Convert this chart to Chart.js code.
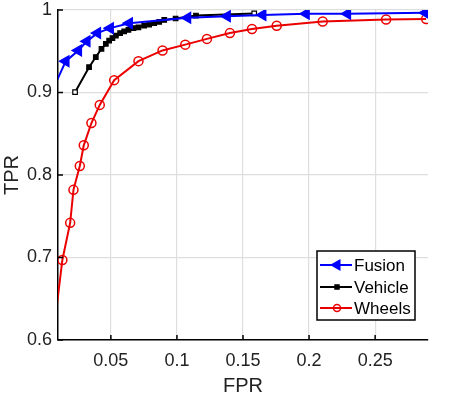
<!DOCTYPE html>
<html>
<head>
<meta charset="utf-8">
<script src="https://cdn.jsdelivr.net/npm/chart.js@4"></script>
<style>
    html, body { margin: 0; padding: 0; background: #fff; }
    #wrap { width: 474px; height: 398px; }
</style>
</head>
<body>
<div id="wrap"><canvas id="roc" width="474" height="398"></canvas></div>
<script>
// ROC curves
const fusionFpr = [0.0093, 0.0159, 0.0254, 0.0318, 0.0398, 0.0495, 0.0639, 0.108, 0.138, 0.1649, 0.1977, 0.229, 0.288];
const fusionTpr = [0.915, 0.938, 0.951, 0.962, 0.972, 0.978, 0.984, 0.9905, 0.9925, 0.994, 0.9954, 0.9954, 0.9966];

const vehicleFpr = [0.0229, 0.0335, 0.0386, 0.0429, 0.0462, 0.0487, 0.0512, 0.0538, 0.057, 0.0601, 0.0633, 0.0671, 0.0709, 0.0752, 0.079, 0.0828, 0.0866, 0.0904, 0.099, 0.1144, 0.1585];
const vehicleTpr = [0.9004, 0.9307, 0.943, 0.953, 0.959, 0.963, 0.966, 0.969, 0.972, 0.974, 0.976, 0.978, 0.979, 0.981, 0.9824, 0.984, 0.9857, 0.988, 0.9897, 0.9933, 0.9958];

const wheelsFpr = [0.0093, 0.0133, 0.0192, 0.0217, 0.0265, 0.0295, 0.0353, 0.0416, 0.0525, 0.0709, 0.0891, 0.1063, 0.1227, 0.1401, 0.1568, 0.1755, 0.2103, 0.2583, 0.2886];
const wheelsTpr = [0.644, 0.697, 0.742, 0.782, 0.811, 0.836, 0.863, 0.885, 0.915, 0.938, 0.951, 0.958, 0.965, 0.972, 0.977, 0.981, 0.986, 0.9885, 0.989];

const xTicks = [0.05, 0.1, 0.15, 0.2, 0.25];
const yTicks = [0.6, 0.7, 0.8, 0.9, 1];

const toPoints = (xs, ys) => xs.map((x, i) => ({ x: x, y: ys[i] }));

const FONT = '"Liberation Sans", Arial, sans-serif';
const BLUE = 'rgb(0,0,255)';
const RED = 'rgb(235,0,0)';

// MATLAB style inward tick marks
const innerTicks = {
    id: 'innerTicks',
    afterDatasetsDraw(chart) {
        const { ctx, chartArea: a, scales } = chart;
        ctx.save();
        ctx.strokeStyle = '#000';
        ctx.lineWidth = 1.5;
        ctx.beginPath();
        xTicks.forEach(v => {
            const px = scales.x.getPixelForValue(v);
            ctx.moveTo(px, a.bottom);
            ctx.lineTo(px, a.bottom - 5);
        });
        yTicks.forEach(v => {
            const py = scales.y.getPixelForValue(v);
            ctx.moveTo(a.left, py);
            ctx.lineTo(a.left + 5, py);
        });
        ctx.stroke();
        ctx.restore();
    }
};

// legend box inside the plot, bottom right
const boxLegend = {
    id: 'boxLegend',
    afterDraw(chart) {
        const ctx = chart.ctx;
        const bx = 317, by = 251, bw = 98, bh = 69;
        ctx.save();
        ctx.fillStyle = '#fff';
        ctx.fillRect(bx, by, bw, bh);
        ctx.strokeStyle = '#000';
        ctx.lineWidth = 1.5;
        ctx.strokeRect(bx, by, bw, bh);
        ctx.font = '17px ' + FONT;
        ctx.textBaseline = 'middle';
        const rows = [265, 287, 308];
        chart.data.datasets.forEach((ds, i) => {
            const y = rows[i];
            ctx.strokeStyle = ds.borderColor;
            ctx.lineWidth = 2;
            ctx.beginPath();
            ctx.moveTo(320, y);
            ctx.lineTo(352, y);
            ctx.stroke();
            const opts = {
                pointStyle: ds.pointStyle,
                rotation: ds.pointRotation || 0,
                radius: ds.legendRadius,
                borderWidth: ds.pointBorderWidth
            };
            ctx.fillStyle = ds.legendFill;
            ctx.strokeStyle = ds.borderColor;
            ctx.lineWidth = ds.pointBorderWidth;
            Chart.helpers.drawPoint(ctx, opts, 337, y);
            ctx.fillStyle = '#000';
            ctx.fillText(ds.label, 354, y + 1);
        });
        ctx.restore();
    }
};

const vehicleFill = vehicleFpr.map((v, i) => (i === 0 || i === vehicleFpr.length - 1) ? '#fff' : '#000');
const edgeRadius = (arr, r) => arr.map((v, i) => i === 0 ? 0 : r);

new Chart(document.getElementById('roc'), {
    type: 'scatter',
    data: {
        datasets: [
            {
                label: 'Fusion',
                data: toPoints(fusionFpr, fusionTpr),
                showLine: true,
                borderColor: BLUE,
                backgroundColor: BLUE,
                borderWidth: 2,
                pointStyle: 'triangle',
                pointRotation: -90,
                pointRadius: edgeRadius(fusionFpr, 6),
                pointBorderWidth: 1.5,
                legendRadius: 5.5,
                legendFill: BLUE
            },
            {
                label: 'Vehicle',
                data: toPoints(vehicleFpr, vehicleTpr),
                showLine: true,
                borderColor: '#000',
                backgroundColor: vehicleFill,
                borderWidth: 2,
                pointStyle: 'rect',
                pointRadius: 3.2,
                pointBorderWidth: 1.2,
                legendRadius: 3,
                legendFill: '#000'
            },
            {
                label: 'Wheels',
                data: toPoints(wheelsFpr, wheelsTpr),
                showLine: true,
                borderColor: RED,
                backgroundColor: 'rgba(0,0,0,0)',
                borderWidth: 2,
                pointStyle: 'circle',
                pointRadius: edgeRadius(wheelsFpr, 4.5),
                pointBorderWidth: 1.5,
                legendRadius: 3.5,
                legendFill: 'rgba(0,0,0,0)'
            }
        ]
    },
    options: {
        responsive: false,
        animation: false,
        events: [],
        layout: { padding: { top: 10, right: 46, left: 0, bottom: 0 } },
        plugins: {
            legend: { display: false },
            tooltip: { enabled: false }
        },
        scales: {
            x: {
                type: 'linear',
                min: 0.01,
                max: 0.29,
                afterBuildTicks: axis => { axis.ticks = xTicks.map(v => ({ value: v })); },
                afterFit: axis => { axis.height = 58; axis.paddingLeft = 0; axis.paddingRight = 0; },
                grid: { color: '#dedede', lineWidth: 1.2, drawTicks: false },
                border: { color: '#000', width: 1.5 },
                ticks: {
                    padding: 10,
                    color: '#222',
                    font: { family: FONT, size: 18 },
                    callback: v => String(v)
                },
                title: {
                    display: true,
                    text: 'FPR',
                    color: '#222',
                    padding: { top: 3, bottom: 0 },
                    font: { family: FONT, size: 20 }
                }
            },
            y: {
                type: 'linear',
                min: 0.6,
                max: 1,
                afterBuildTicks: axis => { axis.ticks = yTicks.map(v => ({ value: v })); },
                afterFit: axis => { axis.width = 58; axis.paddingTop = 0; axis.paddingBottom = 0; },
                grid: { color: '#dedede', lineWidth: 1.2, drawTicks: false },
                border: { color: '#000', width: 1.5 },
                ticks: {
                    padding: 6,
                    color: '#222',
                    font: { family: FONT, size: 18 },
                    callback: v => String(v)
                },
                title: {
                    display: true,
                    text: 'TPR',
                    color: '#222',
                    padding: { top: 0, bottom: 0 },
                    font: { family: FONT, size: 20 }
                }
            }
        }
    },
    plugins: [innerTicks, boxLegend]
});
</script>
</body>
</html>
